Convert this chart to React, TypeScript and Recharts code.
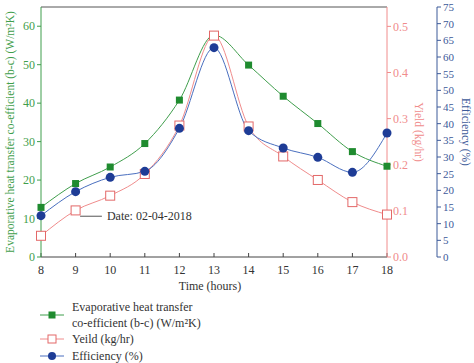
import { LineChart, Line, XAxis, YAxis, Legend, ReferenceLine } from 'recharts';

const hours = [8, 9, 10, 11, 12, 13, 14, 15, 16, 17, 18];
const heatCoeff = [12.9, 19.1, 23.4, 29.5, 40.8, 57.7, 49.9, 41.8, 34.7, 27.4, 23.6];
const yieldKg = [0.046, 0.101, 0.133, 0.18, 0.285, 0.48, 0.283, 0.218, 0.167, 0.119, 0.092];
const efficiency = [12.4, 19.6, 23.9, 25.7, 38.6, 62.8, 37.9, 32.7, 29.9, 25.4, 37.2];

const heatTicks = [0, 10, 20, 30, 40, 50, 60];
const yieldTicks = [0, 0.1, 0.2, 0.3, 0.4, 0.5];
const effTicks = [0, 5, 10, 15, 20, 25, 30, 35, 40, 45, 50, 55, 60, 65, 70, 75];

const GREEN = '#3f9e4c';
const GREEN_DOT = '#1f8b2f';
const RED = '#f08c8c';
const RED_DOT = '#e36868';
const BLUE = '#4a6fbf';
const BLUE_DOT = '#1e3c96';
const EFF_AXIS = '#3c5a99';
const FONT = '"Times New Roman", "Liberation Serif", "DejaVu Serif", serif';

const data = hours.map((h, i) => ({
  hour: h,
  heat: heatCoeff[i],
  yld: yieldKg[i],
  eff: efficiency[i],
}));

const squareDot = (props: any) => (
  <rect key={`g${props.index}`} x={props.cx - 3.5} y={props.cy - 3.5} width={7} height={7} fill={GREEN_DOT} />
);
const openSquareDot = (props: any) => (
  <rect key={`r${props.index}`} x={props.cx - 4.5} y={props.cy - 4.5} width={9} height={9} fill="#fff" stroke={RED_DOT} strokeWidth={1} />
);
const circleDot = (props: any) => (
  <circle key={`b${props.index}`} cx={props.cx} cy={props.cy} r={4.5} fill={BLUE_DOT} />
);

const vLabel = (text: string, color: string, xOff: number, angle: number) => (props: any) => {
  const { x, y, height } = props.viewBox;
  const cx = x + xOff;
  const cy = y + height / 2;
  return (
    <text x={cx} y={cy} transform={`rotate(${angle},${cx},${cy})`} textAnchor="middle" dominantBaseline="central" fill={color} fontSize={11.5} style={{ fontFamily: FONT }}>
      {text}
    </text>
  );
};

const timeLabel = (props: any) => {
  const { x, y, width } = props.viewBox;
  return (
    <text x={x + width / 2 - 4} y={y + 33} textAnchor="middle" fill="#333" fontSize={12} style={{ fontFamily: FONT }}>
      Time (hours)
    </text>
  );
};

const LegendBox = () => (
  <svg width={300} height={66} style={{ display: 'block', fontFamily: FONT }}>
    <g fontSize={12} fill="#333">
      <line x1={40} x2={64} y1={18} y2={18} stroke={GREEN} />
      <rect x={48.5} y={14.5} width={7} height={7} fill={GREEN_DOT} />
      <text x={72} y={14}>Evaporative heat transfer</text>
      <text x={72} y={30}>co-efficient (b-c) (W/m²K)</text>
      <line x1={40} x2={64} y1={42} y2={42} stroke={RED} />
      <rect x={48} y={38} width={8} height={8} fill="#fff" stroke={RED_DOT} />
      <text x={72} y={46}>Yeild (kg/hr)</text>
      <line x1={40} x2={64} y1={59} y2={59} stroke={BLUE} />
      <circle cx={52} cy={59} r={4} fill={BLUE_DOT} />
      <text x={72} y={63}>Efficiency (%)</text>
    </g>
  </svg>
);

export default function App() {
  return (
    <div style={{ position: 'absolute', left: 0, top: 0, background: '#fff', fontFamily: FONT }}>
      <LineChart width={474} height={363} data={data} margin={{ top: 7, right: 0, left: 0, bottom: 0 }} style={{ fontFamily: FONT }}>
        <XAxis
          dataKey="hour"
          type="number"
          domain={[8, 18]}
          ticks={hours}
          height={40}
          tickSize={-4}
          tickMargin={12}
          stroke="#444"
          tick={{ fill: '#333', fontSize: 12 }}
          label={timeLabel}
        />
        <YAxis
          yAxisId="h"
          orientation="left"
          width={41}
          domain={[0, 65]}
          ticks={heatTicks}
          allowDataOverflow
          tickSize={4}
          stroke={GREEN}
          tick={{ fill: GREEN, fontSize: 12 }}
          label={vLabel('Evaporative heat transfer co-efficient (b-c) (W/m²K)', GREEN, 10, -90)}
        />
        <YAxis
          yAxisId="r1"
          orientation="right"
          width={50}
          domain={[0, 0.542]}
          ticks={yieldTicks}
          allowDataOverflow
          tickSize={4}
          stroke={RED}
          tickFormatter={(v: number) => v.toFixed(1)}
          tick={{ fill: RED, fontSize: 12 }}
          label={vLabel('Yield (kg/hr)', RED, 32, 90)}
        />
        <YAxis
          yAxisId="r2"
          orientation="right"
          width={37}
          domain={[0, 75]}
          ticks={effTicks}
          allowDataOverflow
          interval={0}
          tickSize={4}
          stroke={EFF_AXIS}
          tick={{ fill: EFF_AXIS, fontSize: 11 }}
          label={vLabel('Efficiency (%)', EFF_AXIS, 29, 90)}
        />
        <ReferenceLine yAxisId="h" y={65} stroke="#555" />
        <ReferenceLine
          yAxisId="h"
          segment={[{ x: 9.13, y: 10.6 }, { x: 9.76, y: 10.6 }]}
          stroke="#555"
          label={{ value: 'Date: 02-04-2018', position: 'right', offset: 5, fill: '#333', fontSize: 12 }}
        />
        <Legend
          verticalAlign="bottom"
          align="center"
          layout="vertical"
          wrapperStyle={{ left: 0, bottom: 0, width: 300, height: 66 }}
          content={() => <LegendBox />}
        />
        <Line yAxisId="h" type="monotone" dataKey="heat" stroke={GREEN} strokeWidth={1} dot={squareDot} isAnimationActive={false} />
        <Line yAxisId="r1" type="monotone" dataKey="yld" stroke={RED} strokeWidth={1} dot={openSquareDot} isAnimationActive={false} />
        <Line yAxisId="r2" type="monotone" dataKey="eff" stroke={BLUE} strokeWidth={1} dot={circleDot} isAnimationActive={false} />
      </LineChart>
    </div>
  );
}
